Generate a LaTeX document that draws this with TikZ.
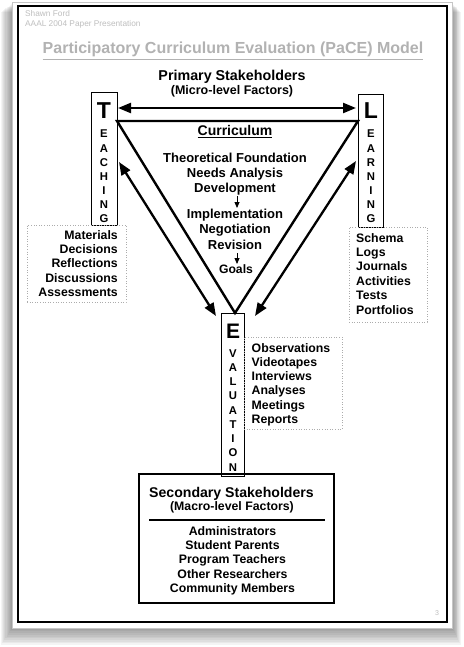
\documentclass[tikz,border=0pt]{standalone}
\usepackage{fontspec}
\setmainfont{Liberation Sans}
\usetikzlibrary{arrows.meta}
\begin{document}
\begin{tikzpicture}[x=1pt,y=-1pt,
  lbl/.style={inner sep=0pt, font=\bfseries\fontsize{12.3}{14}\selectfont},
  ctr/.style={inner sep=0pt, anchor=base, font=\bfseries\fontsize{13}{15}\selectfont},
  letter/.style={inner sep=0pt, anchor=base, font=\bfseries\fontsize{11.3}{13}\selectfont},
  bigletter/.style={inner sep=0pt, anchor=base, font=\bfseries\fontsize{23}{24}\selectfont},
  colbox/.style={draw, line width=0.8pt, inner sep=0pt},
  dotbox/.style={draw=gray!65, dotted, line width=0.6pt, inner sep=0pt},
  bigarrow/.style={line width=2.3pt, {Triangle[length=13pt,width=10pt]}-{Triangle[length=13pt,width=10pt]}},
  smallarrow/.style={line width=0.8pt, -{Triangle[length=6pt,width=5pt]}},
  greytext/.style={inner sep=0pt, text=gray!50}
]
\useasboundingbox (0,0) rectangle (463,647);
\fill[white] (0,0) rectangle (463,647);
% page shadow
\foreach \i in {1,...,10}
  \fill[black, opacity=0.045] ({12-\i*1.1},{3+\i*0.9}) rectangle ({452+\i*0.9},{628+\i*1.7});
\filldraw[fill=white, draw=gray!45, line width=0.5pt] (12,2) rectangle (452,628);
\draw[line width=2pt] (18,6) rectangle (447,622);

% header
\node[greytext, anchor=base west, font=\fontsize{8.3}{10}\selectfont] (author) at (25,17) {Shawn Ford};
\node[greytext, anchor=base west, font=\fontsize{8.3}{10}\selectfont] (conf) at (25,27) {AAAL 2004 Paper Presentation};
\node[greytext, anchor=base, text=gray!60, font=\bfseries\fontsize{16}{18}\selectfont] (title) at (233,54) {\underline{Participatory Curriculum Evaluation (PaCE) Model}};
\node[greytext, anchor=base, font=\fontsize{7}{8}\selectfont] (pageno) at (437,615) {3};

% primary stakeholders
\node[inner sep=0pt, anchor=base, font=\bfseries\fontsize{14.3}{16}\selectfont] (prim) at (232,81) {Primary Stakeholders};
\node[inner sep=0pt, anchor=base, font=\bfseries\fontsize{12.5}{14}\selectfont] (micro) at (232,94.5) {(Micro-level Factors)};

% column boxes
\node[colbox, minimum width=26, minimum height=133] (tbox) at (104,158.5) {};
\node[colbox, minimum width=25, minimum height=133] (lbox) at (370.5,160.5) {};
\node[colbox, minimum width=23, minimum height=163] (ebox) at (232.5,394.5) {};

% big letters
\node[bigletter] (bigT) at (104,119) {T};
\node[bigletter] (bigL) at (371,119) {L};
\node[bigletter, font=\bfseries\fontsize{21}{22}\selectfont] (bigE) at (233,338) {E};

\foreach \l [count=\i] in {E,A,C,H,I,N,G}
  \node[letter] (tl\i) at (104,{138+14.1*(\i-1)}) {\l};
\foreach \l [count=\i] in {E,A,R,N,I,N,G}
  \node[letter] (ll\i) at (371,{138+14.1*(\i-1)}) {\l};
\foreach \l [count=\i] in {V,A,L,U,A,T,I,O,N}
  \node[letter] (el\i) at (233,{357+14.25*(\i-1)}) {\l};

% dotted boxes
\node[dotbox, minimum width=99, minimum height=77] (tdots) at (76.5,263.5) {};
\node[dotbox, minimum width=78, minimum height=95] (ldots) at (388,274.5) {};
\node[dotbox, minimum width=98, minimum height=92] (edots) at (293,383) {};

\foreach \t [count=\i] in {Materials,Decisions,Reflections,Discussions,Assessments}
  \node[lbl, anchor=base east] (ti\i) at (118,{239.5+14.2*(\i-1)}) {\t};
\foreach \t [count=\i] in {Schema,Logs,Journals,Activities,Tests,Portfolios}
  \node[lbl, anchor=base west] (li\i) at (356,{242+14.4*(\i-1)}) {\t};
\foreach \t [count=\i] in {Observations,Videotapes,Interviews,Analyses,Meetings,Reports}
  \node[lbl, anchor=base west] (ei\i) at (251.5,{352+14.3*(\i-1)}) {\t};

% triangle and arrows
\coordinate (triTL) at (117,121);
\coordinate (triTR) at (358,121);
\coordinate (triB) at (235,313);
\draw[line width=2.4pt, line join=miter] (triTL) -- (triTR) -- (triB) -- cycle;

\coordinate (topL) at (118,108);
\coordinate (topR) at (356,108);
\draw[bigarrow] (topL) -- (topR);

\coordinate (dlT) at (119,162);
\coordinate (dlB) at (216,316);
\draw[bigarrow] (dlT) -- (dlB);
\coordinate (drT) at (356,161);
\coordinate (drB) at (255,316);
\draw[bigarrow] (drT) -- (drB);

% curriculum
\node[ctr, font=\bfseries\fontsize{14}{16}\selectfont] (curr) at (235,136) {\underline{Curriculum}};
\node[ctr] (c1) at (235,162.5) {Theoretical Foundation};
\node[ctr] (c2) at (235,177.5) {Needs Analysis};
\node[ctr] (c3) at (235,192.5) {Development};
\node[ctr] (c4) at (235,218.5) {Implementation};
\node[ctr] (c5) at (235,233.5) {Negotiation};
\node[ctr] (c6) at (235,249.5) {Revision};
\node[ctr, font=\bfseries\fontsize{12.2}{14}\selectfont] (c7) at (236,273.5) {Goals};
\coordinate (a1s) at (237,196);
\coordinate (a1e) at (237,208);
\draw[smallarrow] (a1s) -- (a1e);
\coordinate (a2s) at (237,253);
\coordinate (a2e) at (237,264);
\draw[smallarrow] (a2s) -- (a2e);

% secondary stakeholders
\node[draw, line width=2.4pt, minimum width=195, minimum height=129, inner sep=0pt] (sec) at (236.5,538.5) {};
\node[inner sep=0pt, anchor=base, font=\bfseries\fontsize{14.1}{16}\selectfont] (sech) at (231.5,497) {Secondary Stakeholders};
\node[inner sep=0pt, anchor=base, font=\bfseries\fontsize{12.3}{14}\selectfont] (macro) at (232,510.5) {(Macro-level Factors)};
\coordinate (divL) at (149,520);
\coordinate (divR) at (325,520);
\draw[line width=2pt] (divL) -- (divR);
\foreach \t [count=\i] in {Administrators,Student Parents,Program Teachers,Other Researchers,Community Members}
  \node[lbl, anchor=base] (si\i) at (232.5,{535.5+14.2*(\i-1)}) {\t};
\end{tikzpicture}
\end{document}
